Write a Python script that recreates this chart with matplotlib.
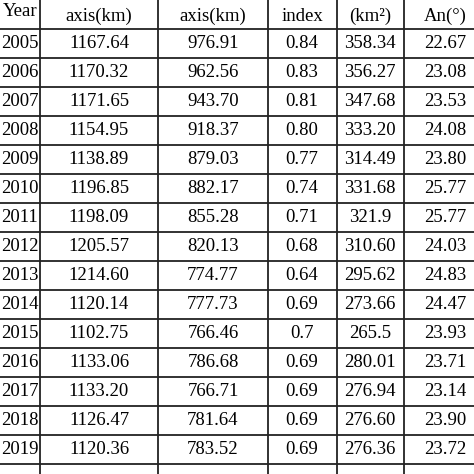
import matplotlib.pyplot as plt

years = ['2005', '2006', '2007', '2008', '2009', '2010', '2011', '2012',
         '2013', '2014', '2015', '2016', '2017', '2018', '2019']
major_axis = ['1167.64', '1170.32', '1171.65', '1154.95', '1138.89', '1196.85', '1198.09', '1205.57',
              '1214.60', '1120.14', '1102.75', '1133.06', '1133.20', '1126.47', '1120.36']
minor_axis = ['976.91', '962.56', '943.70', '918.37', '879.03', '882.17', '855.28', '820.13',
              '774.77', '777.73', '766.46', '786.68', '766.71', '781.64', '783.52']
shape_index = ['0.84', '0.83', '0.81', '0.80', '0.77', '0.74', '0.71', '0.68',
               '0.64', '0.69', '0.7', '0.69', '0.69', '0.69', '0.69']
area = ['358.34', '356.27', '347.68', '333.20', '314.49', '331.68', '321.9', '310.60',
        '295.62', '273.66', '265.5', '280.01', '276.94', '276.60', '276.36']
angle = ['22.67', '23.08', '23.53', '24.08', '23.80', '25.77', '25.77', '24.03',
         '24.83', '24.47', '23.93', '23.71', '23.14', '23.90', '23.72']

header_top = ['Year', 'Major', 'Minor', 'Shape', 'Area', '']
header_bot = ['', 'axis(km)', 'axis(km)', 'index', '(km²)', 'An(°)']

col_x = [20, 99, 213, 302, 370, 445]
vlines = [40, 158, 268, 337, 404]
row_h = 29
top = 29

plt.rcParams['font.family'] = ['Liberation Serif', 'DejaVu Serif']
fig = plt.figure(figsize=(4.74, 4.74), dpi=100)
ax = fig.add_axes([0, 0, 1, 1])
ax.set_xlim(0, 474)
ax.set_ylim(474, 0)
ax.axis('off')

fs = 13.5
ax.text(col_x[0], 11, header_top[0], ha='center', va='center', fontsize=fs)
for x, t, b in zip(col_x[1:], header_top[1:], header_bot[1:]):
    ax.text(x, -9, t, ha='center', va='center', fontsize=fs, clip_on=True)
    ax.text(x, 16, b, ha='center', va='center', fontsize=fs)

cols = [years, major_axis, minor_axis, shape_index, area, angle]
for i in range(len(years)):
    y = top + row_h * i + row_h / 2
    for x, col in zip(col_x, cols):
        ax.text(x, y, col[i], ha='center', va='center', fontsize=fs)

for x in vlines:
    ax.plot([x, x], [0, 474], color='#222222', lw=1.3)
for i in range(len(years) + 1):
    y = top + row_h * i
    ax.plot([0, 474], [y, y], color='#222222', lw=1.3)

fig.savefig('out.png', dpi=100)
